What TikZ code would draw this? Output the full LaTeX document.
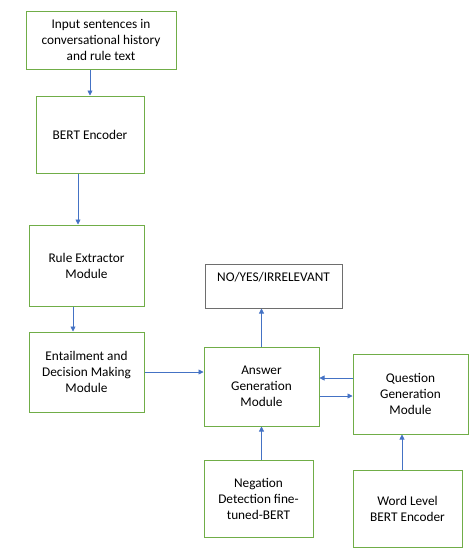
\documentclass[tikz,border=0pt]{standalone}
\usepackage{fontspec}
\setmainfont{Carlito}
\usetikzlibrary{arrows.meta}

\definecolor{boxgreen}{RGB}{112,173,71}
\definecolor{arrowblue}{RGB}{68,114,196}
\definecolor{boxgray}{RGB}{110,110,110}

\def\ux{1pt}
\def\uy{-1pt}

\tikzset{
  modbox/.style={draw=boxgreen, line width=1pt, align=center, inner sep=2pt},
  outbox/.style={draw=boxgray, line width=1pt, align=center},
  arr/.style={draw=arrowblue, line width=0.7pt, -{Triangle[length=5pt,width=5pt]}}
}

\begin{document}
\begin{tikzpicture}[x=\ux,y=\uy, font=\fontsize{13.3}{16}\selectfont]
	\useasboundingbox (0,0) rectangle (474,552);

	% left column
	\node[modbox, minimum width=150pt, minimum height=58pt] (input) at (101,40) {Input sentences in\\conversational history\\and rule text};
	\node[modbox, minimum width=108pt, minimum height=77pt] (bert) at (90,134.5) {BERT Encoder};
	\node[modbox, minimum width=115pt, minimum height=81pt] (rule) at (86.5,265.5) {Rule Extractor\\Module};
	\node[modbox, minimum width=115pt, minimum height=80pt] (entail) at (86.5,372) {Entailment and\\Decision Making\\Module};

	% middle column
	\node[outbox, minimum width=137pt, inner ysep=4pt, text height=13.5pt, text depth=22.5pt] (out) at (273.5,286) {NO/YES/IRRELEVANT};
	\node[modbox, minimum width=115pt, minimum height=79pt] (answer) at (261.5,386.5) {Answer\\Generation\\Module};
	\node[modbox, minimum width=109pt, minimum height=77pt] (neg) at (258.5,498.5) {Negation\\Detection fine-\\tuned-BERT};

	% right column
	\node[modbox, minimum width=115pt, minimum height=80pt] (question) at (410.5,394) {Question\\Generation\\Module};
	\node[modbox, minimum width=109pt, minimum height=77pt] (word) at (407.5,508.5) {Word Level\\BERT Encoder};

	% connectors
	\draw[arr] (input.south -| bert.north) -- (bert.north);
	\draw[arr] ([xshift=-12pt]bert.south) -- ([xshift=-12pt]bert.south |- rule.north);
	\draw[arr] ([xshift=-13.5pt]rule.south) -- ([xshift=-13.5pt]rule.south |- entail.north);
	\draw[arr] (entail.east) -- (entail.east -| answer.west);
	\draw[arr] (answer.north) -- (answer.north |- out.south);
	\draw[arr] (neg.north -| answer.south) -- (answer.south);
	\draw[arr] ([yshift=16pt]question.west) -- ([yshift=16pt]question.west -| answer.east);
	\draw[arr] ([yshift=-2pt]question.west -| answer.east) -- ([yshift=-2pt]question.west);
	\draw[arr] ([xshift=-5.5pt]word.north) -- ([xshift=-5.5pt]word.north |- question.south);
\end{tikzpicture}
\end{document}
